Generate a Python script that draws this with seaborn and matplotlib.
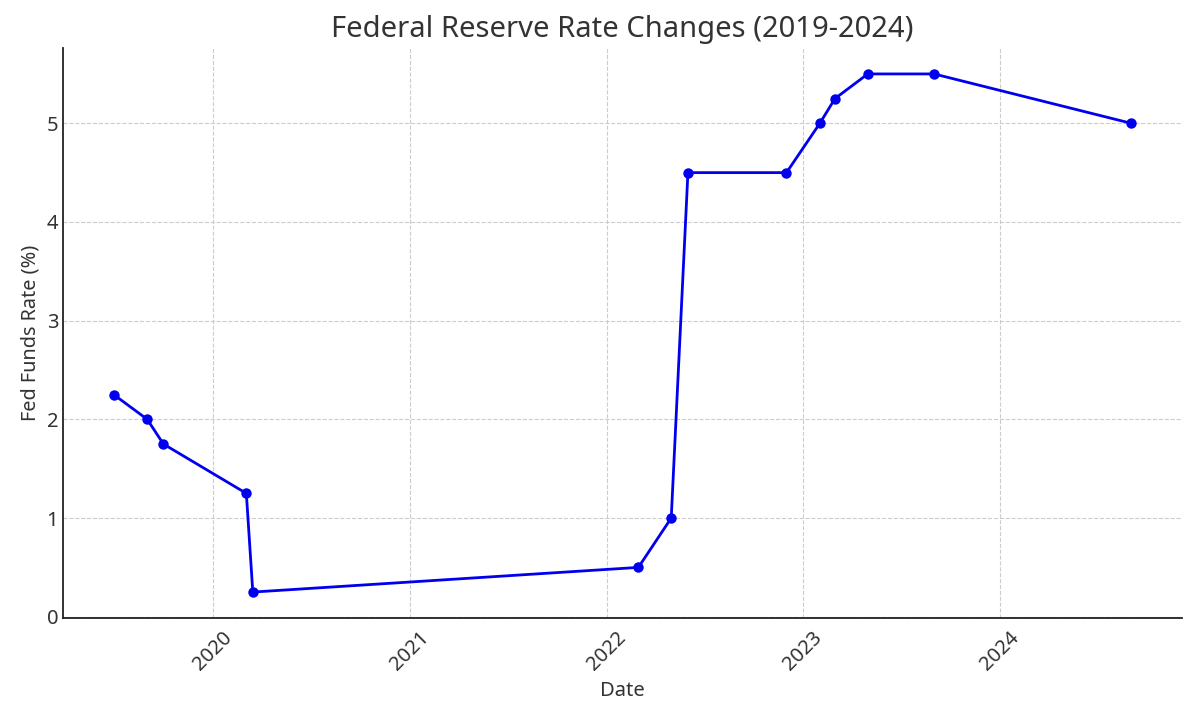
import matplotlib
matplotlib.use("Agg")
import matplotlib.pyplot as plt
import matplotlib.dates as mdates
import seaborn as sns
import pandas as pd

dates = ["2019-07-01", "2019-09-01", "2019-10-01", "2020-03-03", "2020-03-15",
         "2022-03-01", "2022-05-01", "2022-06-01", "2022-12-01", "2023-02-01",
         "2023-03-01", "2023-05-01", "2023-09-01", "2024-09-01"]
rates = [2.25, 2.0, 1.75, 1.25, 0.25, 0.5, 1.0, 4.5, 4.5, 5.0, 5.25, 5.5, 5.5, 5.0]

df = pd.DataFrame({"Date": pd.to_datetime(dates), "Rate": rates})

sns.set_style("white")
plt.rcParams['font.family'] = ['Noto Sans', 'DejaVu Sans']
text_color = "#333333"

fig, ax = plt.subplots(figsize=(12, 7.2), dpi=100)
fig.subplots_adjust(left=0.0525, right=0.985, top=0.9333, bottom=0.1417)

sns.lineplot(data=df, x="Date", y="Rate", ax=ax, color="#0000ee", linewidth=2,
             marker="o", markersize=7.5, markeredgewidth=0)

ax.set_title("Federal Reserve Rate Changes (2019-2024)", fontsize=21, color=text_color, pad=8)
ax.set_xlabel("Date", fontsize=14.5, color=text_color, labelpad=5)
ax.set_ylabel("Fed Funds Rate (%)", fontsize=14.3, color=text_color, labelpad=4)

ax.xaxis.set_major_locator(mdates.YearLocator())
ax.xaxis.set_major_formatter(mdates.DateFormatter("%Y"))
ax.tick_params(axis="both", direction="in", labelsize=14.5, colors="#222222",
               labelcolor=text_color, length=4, width=1)
ax.tick_params(axis="x", pad=7)
for lbl in ax.get_xticklabels():
    lbl.set_rotation(45)

ax.grid(True, linestyle="--", color="#cccccc", linewidth=0.8)
sns.despine(ax=ax)
for s in ["left", "bottom"]:
    ax.spines[s].set_color("#222222")
    ax.spines[s].set_linewidth(1.3)

fig.savefig("out.png", dpi=100)
